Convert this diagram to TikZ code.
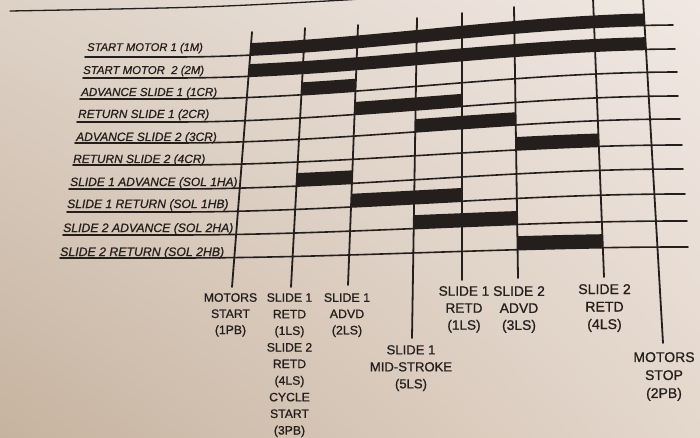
\documentclass[tikz,border=0pt]{standalone}
\usepackage{fontspec}
\setmainfont{Liberation Sans}[FakeBold=0.8]
\usetikzlibrary{calc,shadings}
\definecolor{paperUL}{RGB}{222,210,199}
\definecolor{paperUR}{RGB}{241,232,227}
\definecolor{paperLL}{RGB}{198,179,159}
\definecolor{paperLR}{RGB}{228,215,204}
\definecolor{ink}{RGB}{36,30,28}
\newcommand\rowcurve[4]{plot[domain=#1:#4, samples=90, smooth] (\x,{#2-#3*rf(\x)})}
\newcommand\lfs[1]{\fontsize{#1}{#1}\selectfont\itshape}
\tikzset{
  rowline/.style={draw=ink, line width=1.6pt},
  vline/.style={draw=ink, line width=1.8pt},
  lab/.style={anchor=base west, inner sep=0pt, text=ink},
  blab/.style={anchor=north, inner sep=0pt, align=center, text=ink},
}
\begin{document}
\begin{tikzpicture}[x=1pt,y=-1pt,line cap=round,
  declare function={rv(\x)=max(0,min(1,-0.18+1.18*(\x-85)/595)); rf(\x)=rv(\x)*rv(\x)*(3-2*rv(\x));}]
\useasboundingbox (0,0) rectangle (700,438);
\shade[upper left=paperUL, upper right=paperUR, lower left=paperLL, lower right=paperLR] (0,0) rectangle (700,438);
\clip (0,0) rectangle (700,438);

% top rule
\draw[draw=ink, line width=1.3pt] plot[smooth] coordinates {(10,11) (200,7) (345,0) (380,-3)};

% event lines (top / bottom ends)
\coordinate (t1) at (252,32);  \coordinate (b1) at (232,287);
\coordinate (t2) at (305,28);  \coordinate (b2) at (291,287);
\coordinate (t3) at (358,25);  \coordinate (b3) at (348,285);
\coordinate (t4) at (417,18);  \coordinate (b4) at (412,338);
\coordinate (t5) at (462,13);  \coordinate (b5) at (462,280);
\coordinate (t6) at (514,7);   \coordinate (b6) at (518,278);
\coordinate (t7) at (593,-2);  \coordinate (b7) at (604,277);
\coordinate (t8) at (643,-2);  \coordinate (b8) at (663,343);
\foreach \k in {1,...,8} \draw[vline] (t\k) -- (b\k);

% row lines
\foreach \xL/\yL/\d/\xR in {85/57/32/673, 83/78/29/675, 80/99/27/677, 77/122/26/678, 75/143/24/680,
  73/165/20/682, 69/189/20/683, 67/212/18/685, 63/235/14/687, 60/258/11/688}
  \draw[rowline] \rowcurve{\xL}{\yL}{\d}{\xR};

% bars
\foreach \xL/\yL/\d/\xR/\a/\b/\w/\h in {
  85/57/32/673/1/8/12pt/6pt,
  83/78/29/675/1/8/12.2pt/6.1pt,
  80/99/27/677/2/3/12.4pt/6.2pt,
  77/122/26/678/3/5/12.5pt/6.25pt,
  75/143/24/680/4/6/12.7pt/6.35pt,
  73/165/20/682/6/7/12.9pt/6.45pt,
  69/189/20/683/2/3/13pt/6.5pt,
  67/212/18/685/3/5/13.2pt/6.6pt,
  63/235/14/687/4/6/13.4pt/6.7pt,
  60/258/11/688/6/7/13.5pt/6.75pt}{
  \begin{scope}
    \clip ($(t\a)!-0.1!(b\a)$) -- ($(t\b)!-0.1!(b\b)$) -- (b\b) -- (b\a) -- cycle;
    \draw[draw=ink, line width=\w, line cap=butt, yshift=\h] \rowcurve{\xL}{\yL}{\d}{\xR};
  \end{scope}
}

% row labels
\node[lab, font=\lfs{11.2}] (r1)  at (87,51)  {START MOTOR 1 (1M)};
\node[lab, font=\lfs{11.4}] (r2)  at (83,74)  {START MOTOR\ \ 2 (2M)};
\node[lab, font=\lfs{11.6}] (r3)  at (81,96)  {ADVANCE SLIDE 1 (1CR)};
\node[lab, font=\lfs{11.8}] (r4)  at (78,118) {RETURN SLIDE 1 (2CR)};
\node[lab, font=\lfs{12.0}] (r5)  at (76,141) {ADVANCE SLIDE 2 (3CR)};
\node[lab, font=\lfs{11.9}] (r6)  at (73,163) {RETURN SLIDE 2 (4CR)};
\node[lab, font=\lfs{12.0}] (r7)  at (70,186) {SLIDE 1 ADVANCE (SOL 1HA)};
\node[lab, font=\lfs{12.1}] (r8)  at (67,208) {SLIDE 1 RETURN (SOL 1HB)};
\node[lab, font=\lfs{12.2}] (r9)  at (63,232) {SLIDE 2 ADVANCE (SOL 2HA)};
\node[lab, font=\lfs{12.3}] (r10) at (60,256) {SLIDE 2 RETURN (SOL 2HB)};

% event labels
\node[blab, font=\fontsize{12.2}{16.2}\selectfont] (m1) at (230.5,293) {MOTORS\\START\\(1PB)};
\node[blab, font=\fontsize{12.2}{16.6}\selectfont] (m2) at (289.5,293) {SLIDE 1\\RETD\\(1LS)\\SLIDE 2\\RETD\\(4LS)\\CYCLE\\START\\(3PB)};
\node[blab, font=\fontsize{12.4}{16.3}\selectfont] (m3) at (347,293) {SLIDE 1\\ADVD\\(2LS)};
\node[blab, font=\fontsize{13.1}{17}\selectfont] (m4) at (411,345) {SLIDE 1\\MID-STROKE\\(5LS)};
\node[blab, font=\fontsize{13.6}{17}\selectfont] (m5) at (464,286) {SLIDE 1\\RETD\\(1LS)};
\node[blab, font=\fontsize{13.9}{17}\selectfont] (m6) at (519,286) {SLIDE 2\\ADVD\\(3LS)};
\node[blab, font=\fontsize{14.1}{17.5}\selectfont] (m7) at (604.5,284) {SLIDE 2\\RETD\\(4LS)};
\node[blab, font=\fontsize{14}{18}\selectfont] (m8) at (664,352) {MOTORS\\STOP\\(2PB)};
\end{tikzpicture}
\end{document}
